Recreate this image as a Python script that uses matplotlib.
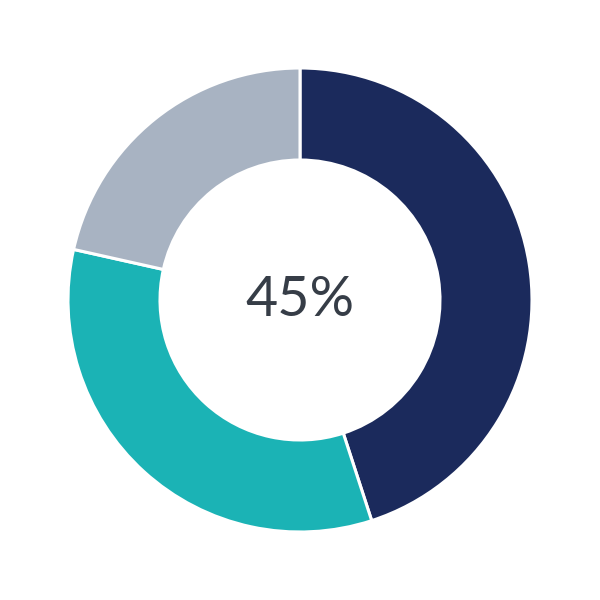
import matplotlib
matplotlib.use("Agg")
from matplotlib import pyplot as plt

# segment shares, clockwise from 12 o'clock
labels = ["Navy", "Teal", "Grey"]
values = [45, 33.5, 21.5]
colors = ["#1b2a5c", "#1bb3b5", "#a8b3c2"]
center_text = "45%"

fig = plt.figure(figsize=(6, 6), dpi=100)
ax = fig.add_axes([0, 0, 1, 1])

outer = 232 / 300
ax.pie(
    values,
    colors=colors,
    startangle=90,
    counterclock=False,
    radius=1,
    wedgeprops=dict(width=92 / 232, edgecolor="white", linewidth=2.2),
)
ax.set_xlim(-1 / outer, 1 / outer)
ax.set_ylim(-1 / outer, 1 / outer)
ax.set_aspect("equal")
ax.axis("off")

ax.text(0, 0, center_text, ha="center", va="center", fontsize=40,
        family=["Lato", "DejaVu Sans"], color="#363d47")

plt.savefig("out.png", dpi=100)
